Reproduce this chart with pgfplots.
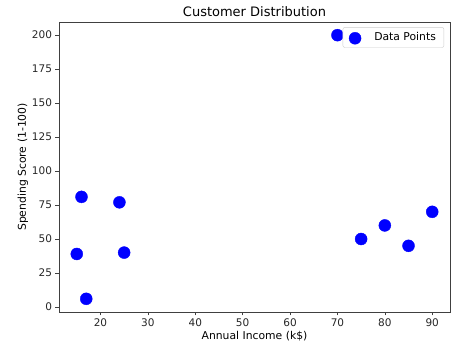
\documentclass[border=0pt]{standalone}
\usepackage{fontspec}
\setmainfont{DejaVu Sans}
\usepackage{pgfplots}
\pgfplotsset{compat=1.18}
\begin{document}
\begin{tikzpicture}
\begin{axis}[
  name=ax,
  scale only axis,
  width=391pt, height=290pt,
  xmin=11.25, xmax=93.75,
  ymin=-3.7, ymax=209.7,
  xtick={20,30,40,50,60,70,80,90},
  ytick={0,25,50,75,100,125,150,175,200},
  tick align=outside,
  tick pos=left,
  major tick length=3.5pt,
  axis line style={draw=black!75},
  every tick/.style={black!75},
  tick label style={font=\fontsize{10.5}{12}\selectfont, text=black!85},
  /pgf/number format/assume math mode=true,
  title={Customer Distribution},
  title style={font=\fontsize{13}{15}\selectfont, yshift=-4pt},
  xlabel={Annual Income (k\$)},
  ylabel={Spending Score (1-100)},
  label style={font=\fontsize{10.8}{12}\selectfont},
  xlabel style={yshift=3pt},
  ylabel style={yshift=-3pt},
  legend style={font=\fontsize{10.8}{12}\selectfont, draw=black!20, rounded corners=2pt, inner xsep=6pt, inner ysep=3pt, column sep=11pt, at={(0.985,0.982)}, anchor=north east},
  legend cell align=left,
  legend image code/.code={\draw[#1] (0.35cm,-1pt) circle (6pt);},
]
\addplot[only marks, mark=*, mark size=6pt, draw=blue, fill=blue] coordinates {
(70,200) (16,81) (24,77) (15,39) (25,40) (17,6) (75,50) (80,60) (85,45) (90,70)
};
\addlegendentry{Data Points}
\end{axis}
\path (ax.south west) ++(-59pt,-45pt);
\path (ax.north east) ++(24pt,22pt);
\end{tikzpicture}
\end{document}
